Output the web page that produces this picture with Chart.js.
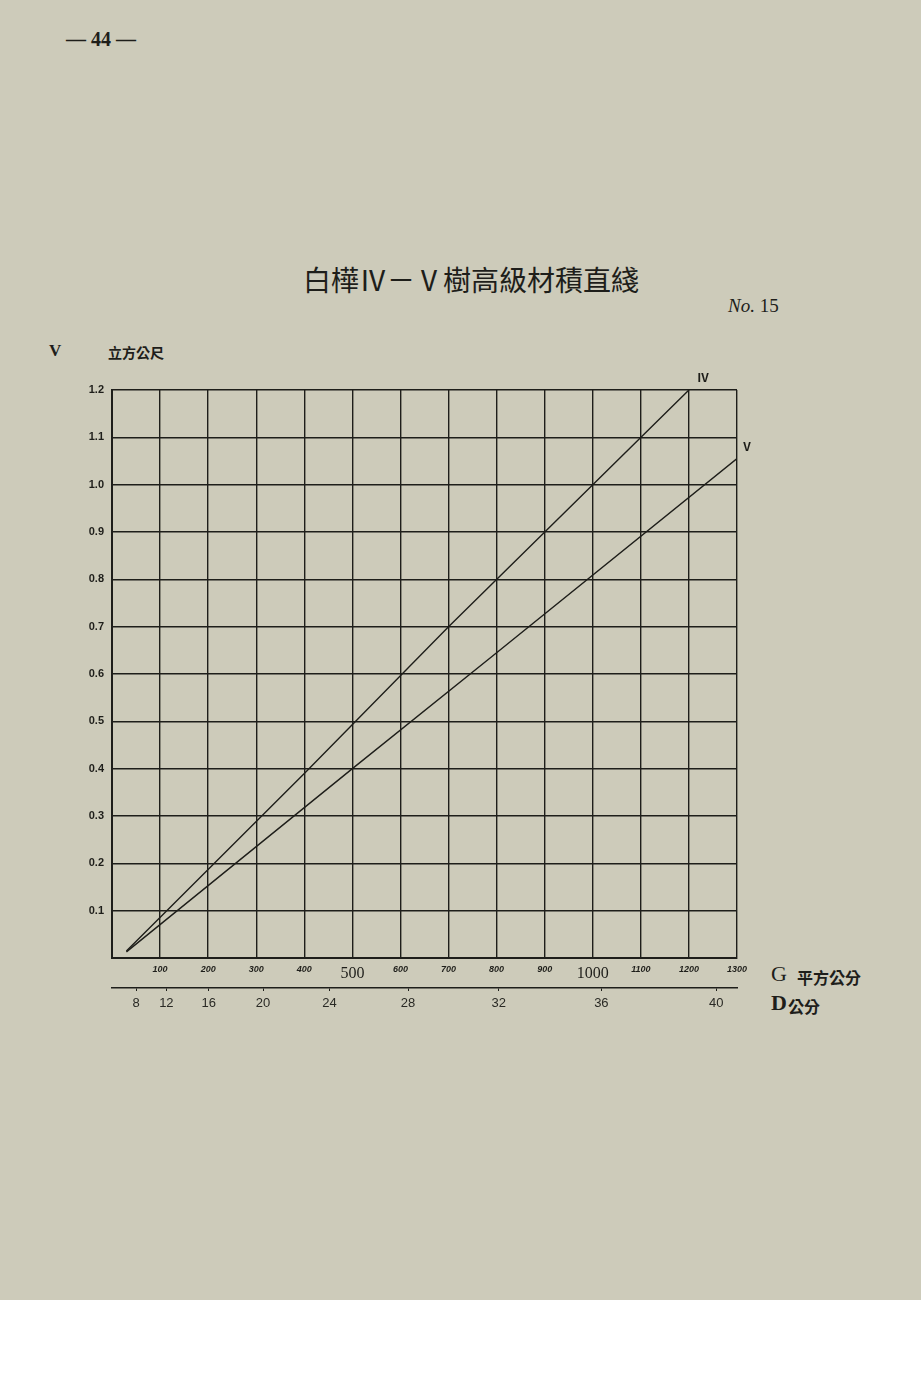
<!DOCTYPE html>
<html>
<head>
<meta charset="utf-8">
<script src="https://cdn.jsdelivr.net/npm/chart.js@4"></script>
<style>
  html, body { margin: 0; padding: 0; }
  body { width: 921px; height: 1390px; background: #cdcbba; position: relative; overflow: hidden; }
  .t { position: absolute; color: #1e1e1a; white-space: nowrap; }
  #chartBox { position: absolute; left: 0; top: 370px; width: 921px; height: 680px; }
  #strip { position: absolute; left: 0; top: 1300px; width: 921px; height: 90px; background: #ffffff; }
</style>
</head>
<body>
<div class="t" style="left:66px;top:28px;font:bold 20px 'Liberation Serif';">—&nbsp;44&nbsp;—</div>
<div class="t" style="left:303px;top:259px;font:28px 'Noto Sans CJK TC';font-weight:400;">白樺Ⅳ－Ⅴ樹高級材積直綫</div>
<div class="t" style="left:728px;top:295px;font:19px 'Liberation Serif';"><i>No.</i>&nbsp;15</div>
<div class="t" style="left:49px;top:341px;font:bold 17px 'Liberation Serif';">V</div>
<div class="t" style="left:108px;top:342px;font:bold 14px 'Noto Sans CJK TC';">立方公尺</div>
<div class="t" style="left:771px;top:961px;font:22px 'Liberation Serif';">G</div>
<div class="t" style="left:797px;top:965px;font:bold 16px 'Noto Sans CJK TC';">平方公分</div>
<div class="t" style="left:771px;top:990px;font:bold 22px 'Liberation Serif';">D</div>
<div class="t" style="left:788px;top:994px;font:bold 16px 'Noto Sans CJK TC';">公分</div>
<div id="chartBox"><canvas id="volChart" width="921" height="680"></canvas></div>
<div id="strip"></div>
<script>
// G = basal area (cm2), V = volume (m3)
const gTicks = [100, 200, 300, 400, 500, 600, 700, 800, 900, 1000, 1100, 1200, 1300];
const gBigTicks = [500, 1000];
const vTicks = [0.1, 0.2, 0.3, 0.4, 0.5, 0.6, 0.7, 0.8, 0.9, 1.0, 1.1, 1.2];
const dLabels = [8, 12, 16, 20, 24, 28, 32, 36, 40];

const gIV = [30, 400, 700, 1000, 1200];
const vIV = [0.015, 0.39, 0.70, 1.00, 1.20];
const gV = [30, 500, 800, 1300];
const vV = [0.013, 0.40, 0.645, 1.055];

const ink = '#1e1e1a';

// small roman numeral labels at the line ends
const endLabels = {
    id: 'endLabels',
    afterDatasetsDraw(chart) {
        const c = chart.ctx, xs = chart.scales.x, ys = chart.scales.y;
        c.save();
        c.fillStyle = ink;
        c.font = 'bold 12px "Noto Sans CJK TC"';
        c.textAlign = 'center';
        c.textBaseline = 'middle';
        let n = gIV.length - 1;
        c.fillText('Ⅳ', xs.getPixelForValue(gIV[n]) + 14, ys.getPixelForValue(vIV[n]) - 13);
        n = gV.length - 1;
        c.fillText('Ⅴ', xs.getPixelForValue(gV[n]) + 10, ys.getPixelForValue(vV[n]) - 12);
        c.restore();
    }
};

new Chart(document.getElementById('volChart').getContext('2d'), {
    type: 'line',
    data: {
        datasets: [{
            label: 'Ⅳ',
            data: gIV.map((g, i) => ({ x: g, y: vIV[i] })),
            borderColor: ink,
            borderWidth: 1.4,
            pointRadius: 0,
            fill: false
        }, {
            label: 'Ⅴ',
            data: gV.map((g, i) => ({ x: g, y: vV[i] })),
            borderColor: ink,
            borderWidth: 1.4,
            pointRadius: 0,
            fill: false
        }]
    },
    options: {
        responsive: false,
        animation: false,
        layout: { padding: { left: 42, right: 184, top: 20, bottom: 22 } },
        plugins: { legend: { display: false }, tooltip: { enabled: false } },
        scales: {
            x: {
                type: 'linear',
                position: 'bottom',
                weight: 0,
                min: 0,
                max: 1300,
                afterBuildTicks: axis => { axis.ticks = gTicks.map(v => ({ value: v })); },
                afterFit: axis => { axis.height = 30; },
                grid: { color: ink, lineWidth: 1.4, drawTicks: false },
                border: { color: ink, width: 2 },
                ticks: {
                    color: ink,
                    padding: 6,
                    maxRotation: 0,
                    autoSkip: false,
                    callback: v => String(v),
                    font: ctx => gBigTicks.includes(ctx.tick && ctx.tick.value)
                        ? { family: 'Liberation Serif', size: 16 }
                        : { family: 'Liberation Sans', size: 9, weight: 'bold', style: 'italic' }
                }
            },
            x2: {
                type: 'linear',
                position: 'bottom',
                weight: 1,
                min: 0,
                max: 1300,
                afterBuildTicks: axis => { axis.ticks = dLabels.map(d => ({ value: Math.PI * d * d / 4 })); },
                afterFit: axis => { axis.height = 40; },
                grid: { drawOnChartArea: false, color: ink, tickLength: 3 },
                border: { color: ink, width: 1.5 },
                ticks: {
                    color: '#2a2a25',
                    padding: 5,
                    maxRotation: 0,
                    autoSkip: false,
                    font: { family: 'Liberation Sans', size: 13 },
                    callback: (v, i) => String(dLabels[i])
                }
            },
            y: {
                type: 'linear',
                min: 0,
                max: 1.2,
                afterBuildTicks: axis => { axis.ticks = vTicks.map(v => ({ value: v })); },
                afterFit: axis => { axis.width = 70; },
                grid: { color: ink, lineWidth: 1.4, drawTicks: false },
                border: { color: ink, width: 2 },
                ticks: {
                    color: ink,
                    padding: 8,
                    font: { family: 'Liberation Sans', size: 11, weight: 'bold' },
                    callback: v => v.toFixed(1)
                }
            }
        }
    },
    plugins: [endLabels]
});
</script>
</body>
</html>
